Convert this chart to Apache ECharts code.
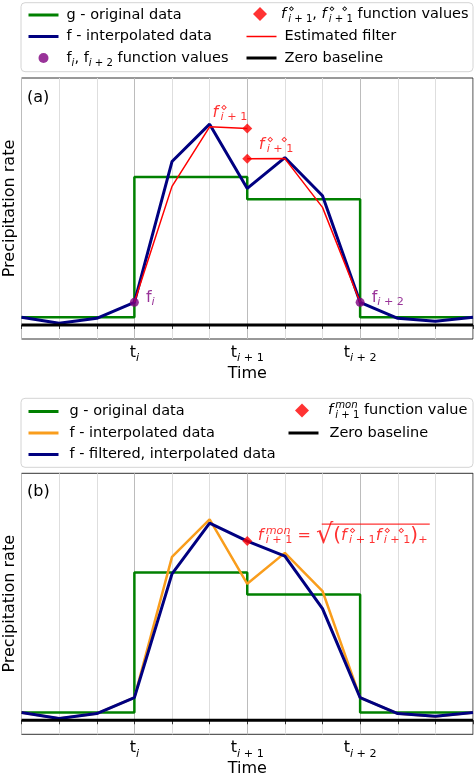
<!DOCTYPE html>
<html>
<head>
<meta charset="utf-8">
<script src="https://cdn.jsdelivr.net/npm/echarts@6/dist/echarts.min.js"></script>
<style>
  html, body { margin: 0; padding: 0; background: #fff; }
  #chart { width: 474px; height: 776px; }
</style>
</head>
<body>
<div id="chart"></div>
<script>
// time steps (x axis), t_i, t_i+1, t_i+2 sit at 3, 6, 9
const timeSteps = [0, 1, 2, 3, 4, 5, 6, 7, 8, 9, 10, 11, 12];
const tickPos = [3, 6, 9];
const tickSub = ['i', 'i + 1', 'i + 2'];

// g - original (block) data
const gEdges = [0, 3, 6, 9, 12];
const gValues = [0.52, 10.0, 8.5, 0.52];

// f - interpolated data
const fInterp = [0.52, 0.12, 0.45, 1.53, 11.05, 13.58, 9.23, 11.32, 8.74, 1.53, 0.45, 0.25, 0.52];
// f - filtered, interpolated data
const fFiltered = [0.52, 0.12, 0.45, 1.53, 9.9, 13.33, 12.12, 11.1, 7.55, 1.53, 0.45, 0.27, 0.52];

// estimated filter, two pieces meeting at t_i+1
const filterLeftX = [3, 4, 5, 6];
const filterLeft = [1.53, 9.37, 13.4, 13.28];
const filterRightX = [6, 7, 8, 9];
const filterRight = [11.24, 11.25, 7.95, 1.53];

const fiPoints = [[3, 1.53], [9, 1.53]];
const diamondA = [[6, 13.28], [6, 11.24]];
const monPoint = [[6, 12.12]];
const baseline = [[0, 0], [12, 0]];

const FONT = 'DejaVu Sans';
const GREEN = '#008000', NAVY = '#000080', RED = '#ff0000', PURPLE = '#800080', ORANGE = '#f99d1c';

const chart = echarts.init(document.getElementById('chart'));

function pairs(xs, ys) { return xs.map((x, i) => [x, ys[i]]); }
function steps(edges, vals) {
  const out = [];
  vals.forEach((v, i) => { out.push([edges[i], v]); out.push([edges[i + 1], v]); });
  return out;
}

function rich(size, color) {
  const lh = 20;
  const base = { color: color, fontFamily: FONT, align: 'left' };
  const r = {
    n: { fontSize: size, lineHeight: lh },
    fi: { fontSize: size, fontStyle: 'italic', lineHeight: lh },
    th: { fontSize: size * 0.45, lineHeight: lh },
    si: { fontSize: size * 0.7, fontStyle: 'italic', lineHeight: size * 0.7, verticalAlign: 'bottom' },
    s: { fontSize: size * 0.7, lineHeight: size * 0.7, verticalAlign: 'bottom' },
    sup: { fontSize: size * 0.7, lineHeight: size * 0.7, verticalAlign: 'top', width: 0.01 },
    supi: { fontSize: size * 0.7, fontStyle: 'italic', lineHeight: size * 0.7, verticalAlign: 'top', width: 0.01 },
    par: { fontSize: size * 1.25, lineHeight: lh },
    rad: { fontSize: size * 1.7, lineHeight: lh },
    gap: { fontSize: 1, lineHeight: 3, width: 64 },
    bar: { fontSize: 1, lineHeight: 3, width: 108, height: 1.2, backgroundColor: color }
  };
  Object.keys(r).forEach(k => { r[k] = Object.assign({}, base, r[k]); });
  return r;
}

const fDia = '{fi|f}{th| }{sup|⋄}{si|i}{s| + 1}';
const fDiaDia = '{fi|f}{th| }{sup|⋄  ⋄}{si|i}{s| + 1}';

const legendNames = {
  a_g: 'g - original data',
  a_f: 'f - interpolated data',
  a_dots: 'f{si|i}, f{si|i}{s| + 2} function values',
  a_dia: fDia + ', ' + fDiaDia + ' function values',
  a_filt1: 'Estimated filter',
  a_zero: 'Zero baseline',
  b_g: 'g - original data',
  b_f: 'f - interpolated data',
  b_ff: 'f - filtered, interpolated data',
  b_mon: '{fi|f}{th| }{supi|mon}{si|i}{s| + 1} function value',
  b_zero: 'Zero baseline'
};
const markerItems = ['a_dots', 'a_dia', 'b_mon'];
const thinItems = ['a_filt1'];

function legendCol(left, top, names, padLeft, iconW, iconH) {
  return {
    left: left, top: top, orient: 'vertical', padding: 0,
    itemWidth: iconW || 30, itemHeight: iconH || 10, itemGap: 1.5,
    selectedMode: false, symbolKeepAspect: true,
    data: names.map(n => {
      if (markerItems.indexOf(n) >= 0) return { name: n };
      return {
        name: n,
        lineStyle: { width: thinItems.indexOf(n) >= 0 ? 1.5 : 3 },
        itemStyle: { color: 'rgba(0,0,0,0)', borderColor: 'rgba(0,0,0,0)', borderWidth: 0 }
      };
    }),
    formatter: name => legendNames[name],
    textStyle: {
      fontSize: 14.5, color: '#000', fontFamily: FONT, lineHeight: 20,
      padding: [0, 0, 0, padLeft], rich: rich(14.5, '#000')
    }
  };
}

const gridTops = [78, 473.3];
const GRID_H = 261;

function xAxis(i) {
  return {
    gridIndex: i, type: 'value', min: 0, max: 12, interval: 1,
    name: 'Time', nameLocation: 'middle', nameGap: 27,
    nameTextStyle: { fontSize: 16, color: '#000', fontFamily: FONT },
    axisLine: { show: true, lineStyle: { color: '#333', width: 1 } },
    axisTick: { show: true, length: 4, lineStyle: { color: '#333' } },
    splitLine: { show: true, lineStyle: { color: ['#bcbcbc', '#dedede', '#dedede'], width: 1 } },
    axisLabel: {
      margin: 3,
      formatter: v => {
        const k = tickPos.indexOf(v);
        if (k < 0) return '';
        const rest = tickSub[k].slice(1);
        return '{t|t}{si|i}' + (rest ? '{s|' + rest + '}' : '');
      },
      rich: Object.assign(rich(16, '#000'), { t: { fontSize: 16, color: '#000', lineHeight: 22, fontFamily: FONT, align: 'left' } })
    }
  };
}

function yAxis(i) {
  return {
    gridIndex: i, type: 'value', min: -0.95, max: 16.7,
    name: 'Precipitation rate', nameLocation: 'middle', nameGap: 4, nameRotate: 90,
    nameTextStyle: { fontSize: 16, color: '#000', fontFamily: FONT },
    axisLine: { show: false }, axisTick: { show: false }, axisLabel: { show: false },
    splitLine: { show: false }
  };
}

function lineSeries(name, idx, data, color, width, z) {
  return {
    name: name, type: 'line', xAxisIndex: idx, yAxisIndex: idx, data: data,
    symbol: 'none', lineStyle: { color: color, width: width }, itemStyle: { color: color },
    z: z, silent: true, animation: false
  };
}

const option = {
  animation: false,
  textStyle: { fontFamily: FONT },
  graphic: [
    { type: 'rect', z: 0, shape: { x: 21, y: 2.7, width: 452, height: 69, r: 4 },
      style: { fill: '#fff', stroke: '#d4d4d4', lineWidth: 1 } },
    { type: 'rect', z: 0, shape: { x: 21, y: 398.3, width: 452, height: 69, r: 4 },
      style: { fill: '#fff', stroke: '#d4d4d4', lineWidth: 1 } }
  ],
  title: [
    { text: '(a)', left: 27, top: 90, padding: 0, textStyle: { fontSize: 16, fontWeight: 'normal', color: '#000', fontFamily: FONT } },
    { text: '(b)', left: 27, top: 484, padding: 0, textStyle: { fontSize: 16, fontWeight: 'normal', color: '#000', fontFamily: FONT } }
  ],
  legend: [
    legendCol(27, 5, ['a_g', 'a_f', 'a_dots'], 3),
    legendCol(253, 4, ['a_dia'], 9, 14, 14),
    legendCol(245, 26.5, ['a_filt1', 'a_zero'], 3),
    legendCol(27, 401.5, ['b_g', 'b_f', 'b_ff'], 6),
    legendCol(295, 400.5, ['b_mon'], 14, 14, 14),
    legendCol(287, 423, ['b_zero'], 6)
  ],
  grid: gridTops.map(t => ({
    left: 21.5, right: 1, top: t, height: GRID_H, outerBoundsMode: 'none', containLabel: false,
    show: true, borderColor: '#333', borderWidth: 1, backgroundColor: 'transparent'
  })),
  xAxis: [xAxis(0), xAxis(1)],
  yAxis: [yAxis(0), yAxis(1)],
  series: [
    // panel (a)
    lineSeries('a_g', 0, steps(gEdges, gValues), GREEN, 2.5, 2),
    lineSeries('a_f', 0, pairs(timeSteps, fInterp), NAVY, 3, 3),
    lineSeries('a_filt1', 0, pairs(filterLeftX, filterLeft), RED, 1.5, 4),
    lineSeries('a_filt2', 0, pairs(filterRightX, filterRight), RED, 1.5, 4),
    lineSeries('a_zero', 0, baseline, '#000', 3, 5),
    {
      name: 'a_dots', type: 'scatter', xAxisIndex: 0, yAxisIndex: 0, symbol: 'circle', symbolSize: 9,
      itemStyle: { color: PURPLE }, z: 6, silent: true,
      label: { show: true, position: 'right', distance: 7, offset: [0, -4.5], rich: rich(16, PURPLE) },
      data: [
        { value: fiPoints[0], label: { formatter: '{n|f}{si|i}' } },
        { value: fiPoints[1], label: { formatter: '{n|f}{si|i}{s| + 2}' } }
      ]
    },
    {
      name: 'a_dia', type: 'scatter', xAxisIndex: 0, yAxisIndex: 0, symbol: 'diamond', symbolSize: 10,
      itemStyle: { color: RED }, z: 7, silent: true,
      label: { show: true, rich: rich(16, RED) },
      data: [
        { value: diamondA[0], label: { position: 'left', distance: -5, offset: [0, -15.5], formatter: fDia } },
        { value: diamondA[1], label: { position: 'right', distance: 6.5, offset: [0, -14], formatter: fDiaDia } }
      ]
    },
    // panel (b)
    lineSeries('b_g', 1, steps(gEdges, gValues), GREEN, 2.5, 2),
    lineSeries('b_f', 1, pairs(timeSteps, fInterp), ORANGE, 2.5, 3),
    lineSeries('b_ff', 1, pairs(timeSteps, fFiltered), NAVY, 3, 4),
    lineSeries('b_zero', 1, baseline, '#000', 3, 5),
    {
      name: 'b_mon', type: 'scatter', xAxisIndex: 1, yAxisIndex: 1, symbol: 'diamond', symbolSize: 10,
      itemStyle: { color: RED }, z: 7, silent: true,
      label: {
        show: true, position: 'right', distance: 5.5, offset: [0, -7], rich: rich(16, RED),
        formatter: '{gap| }{bar| }\n{fi|f}{th| }{supi|mon}{si|i}{s| + 1}{n| = }{rad|√}{par|(}' + fDia + fDiaDia + '{par|)}{s|+}'
      },
      data: monPoint
    }
  ]
};

chart.setOption(option);
</script>
</body>
</html>
